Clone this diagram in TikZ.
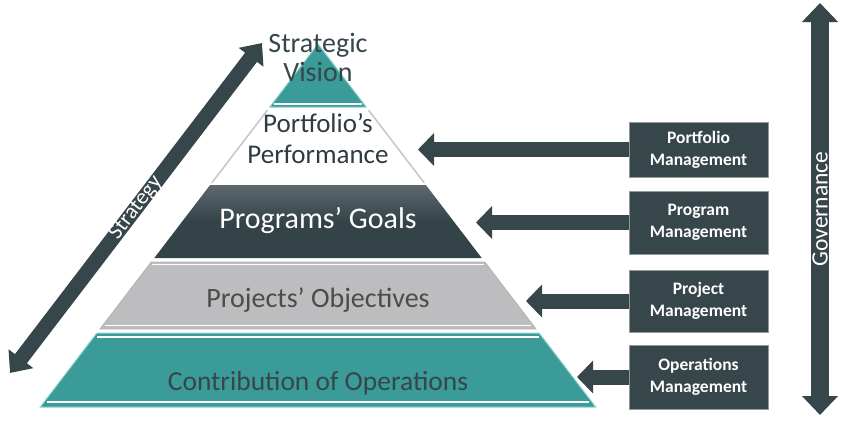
\documentclass[tikz,border=0pt]{standalone}
\usepackage{fontspec}
\setmainfont{Carlito}
\usetikzlibrary{arrows.meta}
\definecolor{slate}{HTML}{37464B}
\definecolor{pyrteal}{HTML}{3A9B98}
\definecolor{lightteal}{HTML}{8FD3CF}
\definecolor{pyrgray}{HTML}{BDBDBF}
\definecolor{pyrdark}{HTML}{344348}

\begin{document}
\begin{tikzpicture}[x=1pt,y=-1pt,
    mgmt/.style={draw=slate!55, line width=0.8pt, fill=slate, text=white,
      font=\fontsize{17.5}{22}\selectfont\bfseries, align=center,
      minimum width=139pt, inner sep=0pt},
    push/.style={draw=slate, line width=15pt, -{Triangle[width=32pt,length=16pt]}},
    stripe/.style={white, line width=1.6pt},
    layertext/.style={align=center, inner sep=0pt}]
    \useasboundingbox (0,0) rectangle (847,423);
    %
    % pyramid layers
    \fill[pyrteal] (318,44) -- (366.2,107) -- (269.8,107) -- cycle;
    \draw[lightteal, line width=1pt] (318,44) -- (366.2,107) -- (269.8,107) -- cycle;
    \draw[stripe] (274,104) -- (362,104);
    \fill[white] (267.5,110) -- (368.5,110) -- (424.3,183) -- (211.7,183) -- cycle;
    \draw[gray!45, line width=1.5pt] (267.5,110) -- (211.7,183) (368.5,110) -- (424.3,183);
    \shade[top color=pyrdark!80!white, bottom color=pyrdark, middle color=pyrdark]
      (210.1,185) -- (425.9,185) -- (481.7,258) -- (154.3,258) -- cycle;
    \fill[pyrgray] (151.2,262) -- (484.8,262) -- (536,329) -- (100,329) -- cycle;
    \draw[gray!60, line width=0.8pt] (151.2,262) -- (484.8,262) -- (536,329) -- (100,329) -- cycle;
    \draw[stripe] (152,264.5) -- (484,264.5);
    \draw[stripe] (105,325.5) -- (531,325.5);
    \fill[pyrteal] (96.9,333) -- (539.1,333) -- (595.7,407) -- (40.3,407) -- cycle;
    \draw[lightteal, line width=1pt] (96.9,333) -- (539.1,333) -- (595.7,407) -- (40.3,407) -- cycle;
    \draw[stripe] (97,337) -- (539,337);
    \draw[stripe] (47,402) -- (589,402);
    %
    \node (vision) at (318,57.5) [layertext, text=slate, font=\fontsize{28}{29}\selectfont] {Strategic\\Vision};
    \node (portfolio) at (318,138.5) [layertext, text=slate!85!black, font=\fontsize{27}{31}\selectfont] {Portfolio’s\\Performance};
    \node (programs) at (318,221) [layertext, text=white, font=\fontsize{30}{31}\selectfont] {Programs’ Goals};
    \node (projects) at (318,300) [layertext, text=black!70, font=\fontsize{28}{29}\selectfont] {Projects’ Objectives};
    \node (operations) at (318,383) [layertext, text=slate, font=\fontsize{27.5}{29}\selectfont] {Contribution of Operations};
    %
    % management boxes
    \node (pfbox) at (698.5,149.5) [mgmt, minimum height=55pt] {Portfolio\\Management};
    \node (pgbox) at (698.5,222.5) [mgmt, minimum height=63pt] {Program\\Management};
    \node (pjbox) at (698.5,301) [mgmt, minimum height=62pt] {Project\\Management};
    \node (opbox) at (698.5,377) [mgmt, minimum height=64pt] {Operations\\Management};
    %
    \coordinate (pftip) at (418,149.5);
    \coordinate (pgtip) at (476,222.5);
    \coordinate (pjtip) at (526,301);
    \coordinate (optip) at (577,377);
    \draw[push] (pfbox.west) -- (pftip);
    \draw[push] (pgbox.west) -- (pgtip);
    \draw[push] (pjbox.west) -- (pjtip);
    \draw[push] (opbox.west) -- (optip);
    %
    % side arrows
    \coordinate (govtop) at (820,3);
    \coordinate (govbot) at (820,415);
    \draw[draw=slate, line width=18pt, {Triangle[width=35pt,length=19pt]}-{Triangle[width=35pt,length=19pt]}]
      (govbot) -- node[sloped, text=white, font=\fontsize{23.5}{24}\selectfont] {Governance} (govtop);
    \coordinate (stratlow) at (10,373);
    \coordinate (strathigh) at (262,43);
    \draw[draw=slate, line width=15pt, {Triangle[width=30pt,length=18pt]}-{Triangle[width=30pt,length=18pt]}]
      (stratlow) -- node[sloped, text=white, font=\fontsize{22}{23}\selectfont] {Strategy} (strathigh);
\end{tikzpicture}
\end{document}
